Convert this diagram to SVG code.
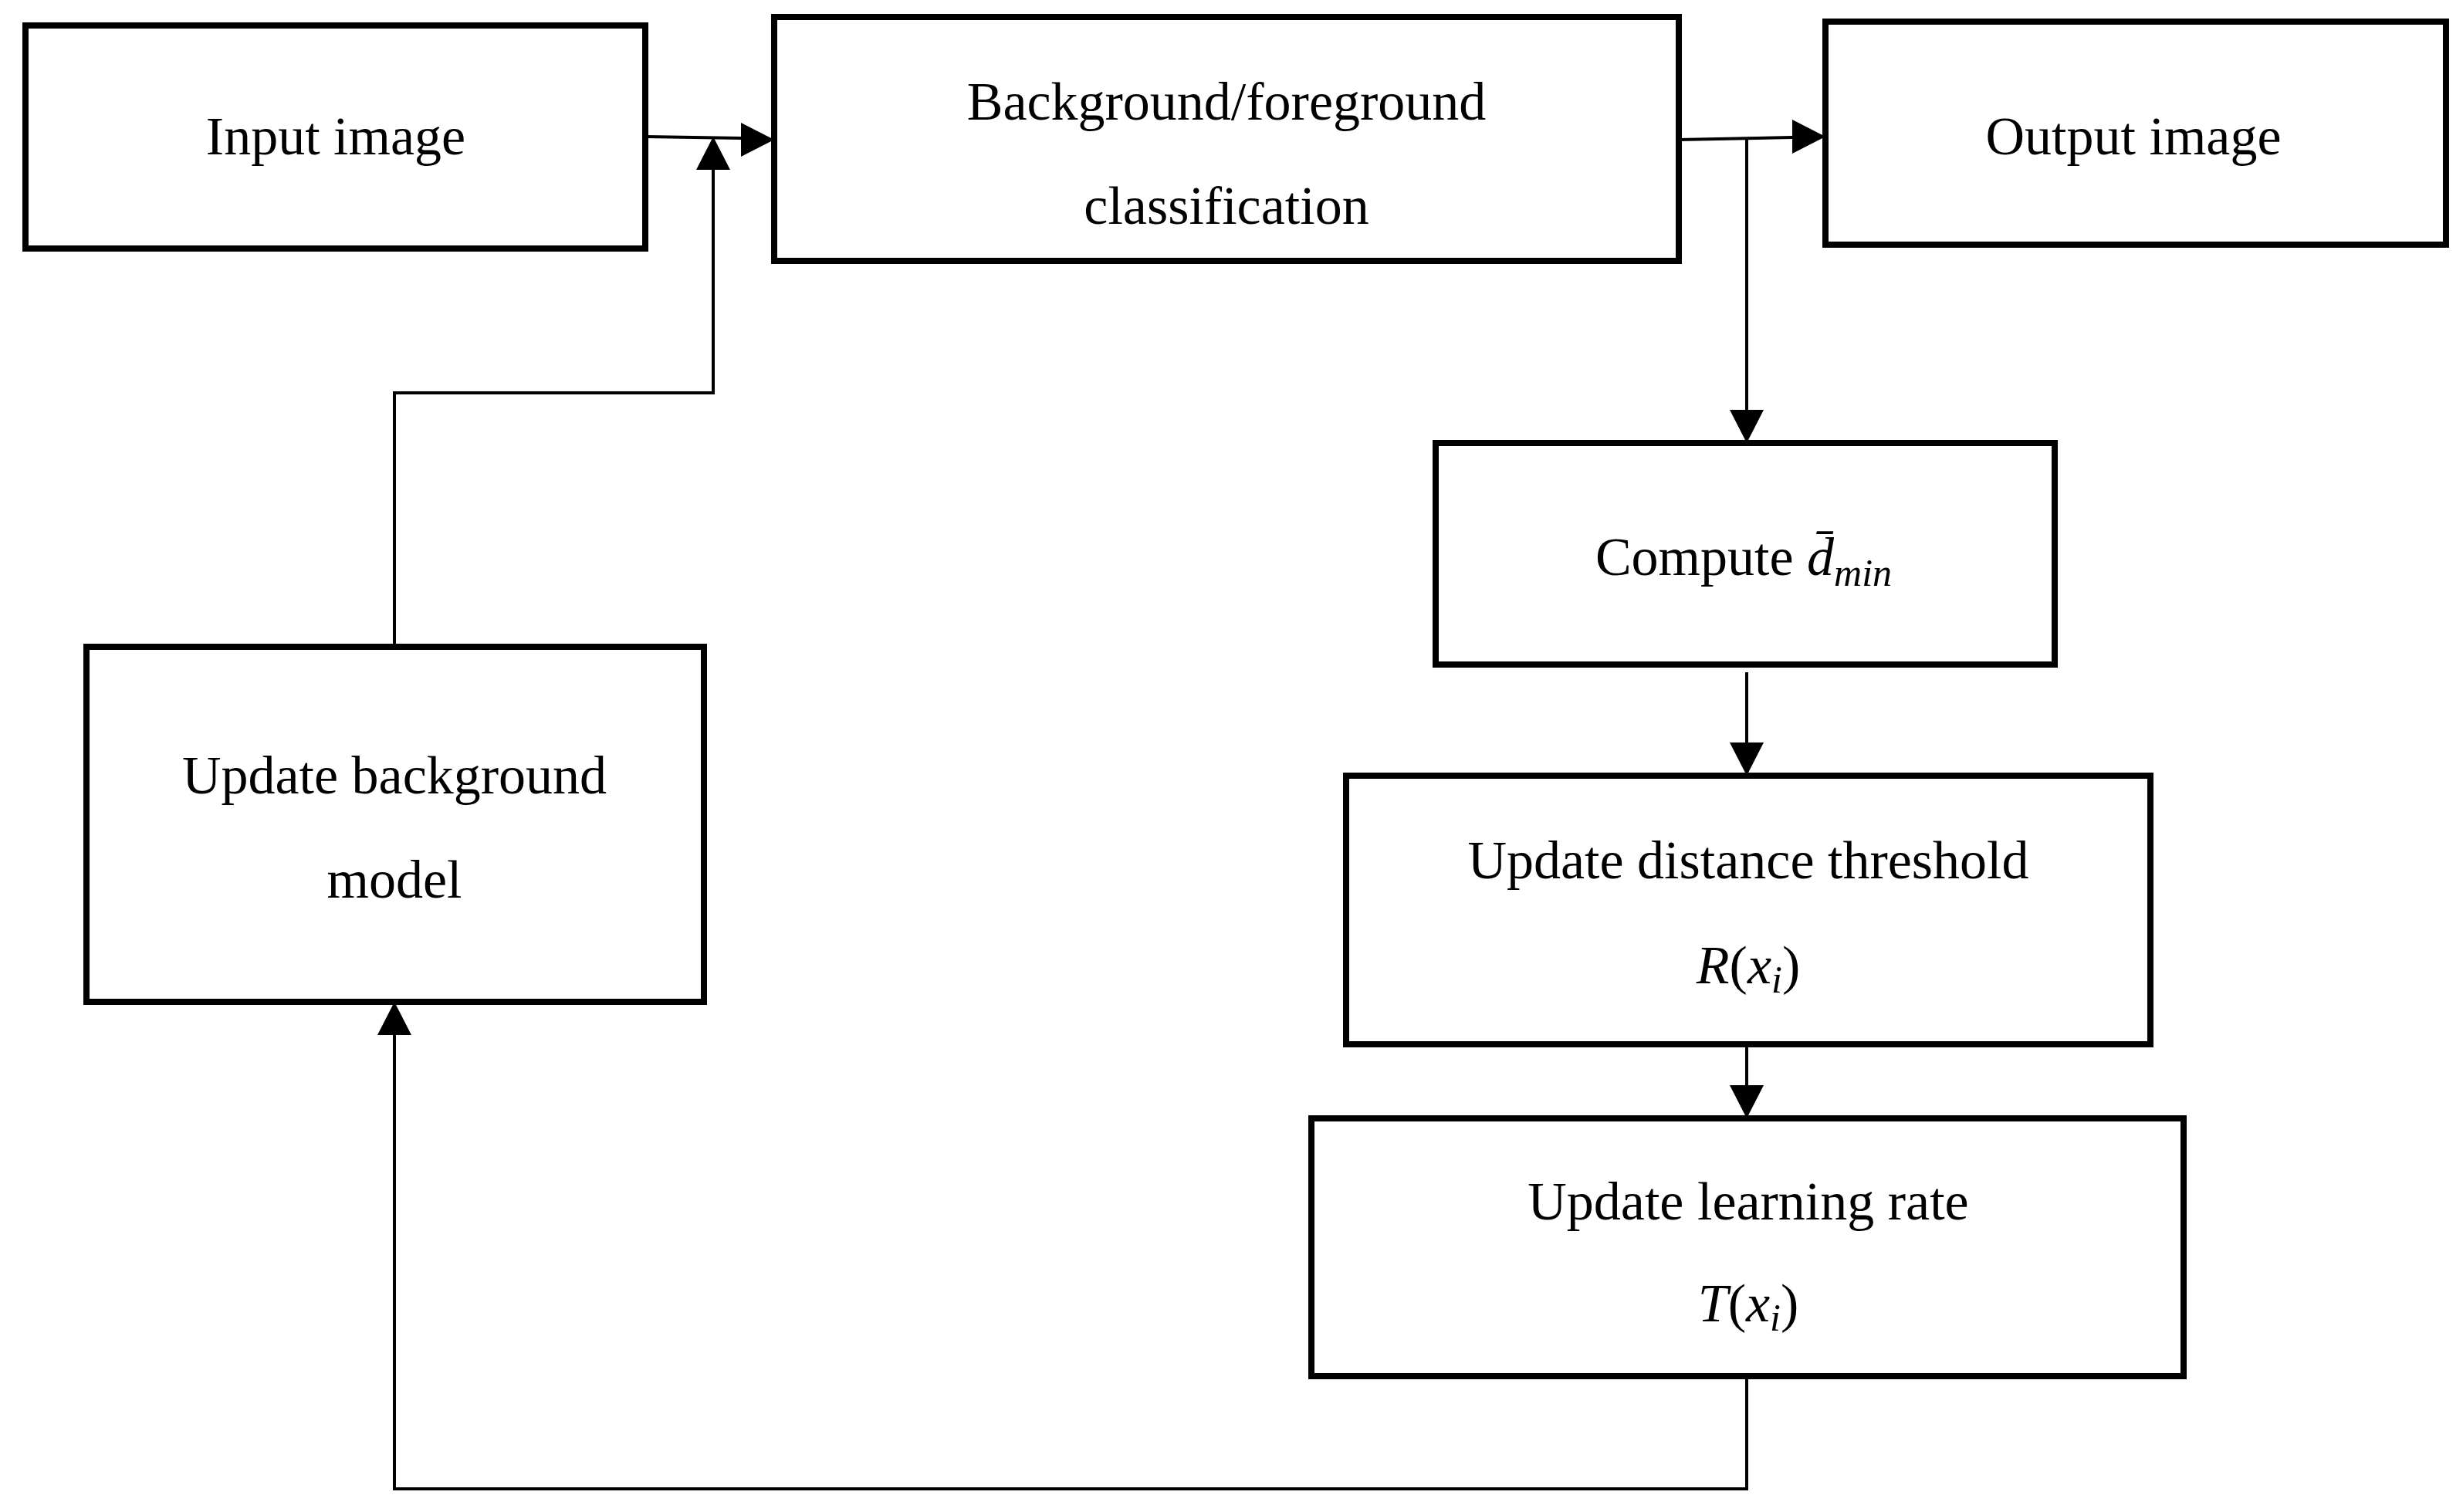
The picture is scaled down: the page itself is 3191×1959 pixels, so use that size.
<svg xmlns="http://www.w3.org/2000/svg" width="3191" height="1959" viewBox="0 0 3191 1959">
<style>
.b{fill:#fff;stroke:#000;stroke-width:8}
.t{font-family:"Liberation Serif",serif;font-size:70px;text-anchor:middle;fill:#000}
.m{font-style:italic}
.c{fill:none;stroke:#000;stroke-width:4}
</style>
<defs><marker id="a" markerWidth="10" markerHeight="10" refX="10" refY="5" orient="auto" markerUnits="userSpaceOnUse" viewBox="0 0 10 10" style="overflow:visible"><path d="M0,0L10,5L0,10Z" transform="scale(4.5)" fill="#000"/></marker></defs>
<rect width="3191" height="1959" fill="#fff"/>
<g id="connectors">
<path class="c" d="M836,177L960,179"/><polygon points="1003,181 960,159 960,203"/>
<path class="c" d="M511,838V509H924V220"/><polygon points="924,177 902,220 946,220"/>
<path class="c" d="M2175,181L2322,178"/><polygon points="2365,177 2322,155 2322,199"/>
<path class="c" d="M2263,181V531"/><polygon points="2263,574 2241,531 2285,531"/>
<path class="c" d="M2263,871V962"/><polygon points="2263,1005 2241,962 2285,962"/>
<path class="c" d="M2263,1353V1406"/><polygon points="2263,1449 2241,1406 2285,1406"/>
<path class="c" d="M2263,1783V1929H511V1341"/><polygon points="511,1298 489,1341 533,1341"/>
</g>
<g id="input"><rect class="b" x="33" y="33" width="803" height="289"/><text class="t" x="435" y="200">Input image</text></g>
<g id="classify"><rect class="b" x="1003" y="22" width="1172" height="316"/><text class="t" x="1589" y="155">Background/foreground</text><text class="t" x="1589" y="290">classification</text></g>
<g id="output"><rect class="b" x="2365" y="28" width="804" height="289"/><text class="t" x="2764" y="200">Output image</text></g>
<g id="compute"><rect class="b" x="1860" y="574" width="802" height="287"/><text class="t" x="2259" y="745">Compute  <tspan class="m">d̄</tspan><tspan class="m" font-size="50" dy="14">min</tspan></text></g>
<g id="distance"><rect class="b" x="1744" y="1005" width="1042" height="348"/><text class="t" x="2265" y="1138">Update distance threshold</text><text class="t" x="2265" y="1274"><tspan class="m">R</tspan>(<tspan class="m">x</tspan><tspan class="m" font-size="50" dy="12">i</tspan><tspan dy="-12">)</tspan></text></g>
<g id="learning"><rect class="b" x="1699" y="1449" width="1130" height="334"/><text class="t" x="2265" y="1580">Update learning rate</text><text class="t" x="2265" y="1712"><tspan class="m">T</tspan>(<tspan class="m">x</tspan><tspan class="m" font-size="50" dy="12">i</tspan><tspan dy="-12">)</tspan></text></g>
<g id="update"><rect class="b" x="112" y="838" width="800" height="460"/><text class="t" x="511" y="1028">Update background</text><text class="t" x="511" y="1163">model</text></g>
</svg>
